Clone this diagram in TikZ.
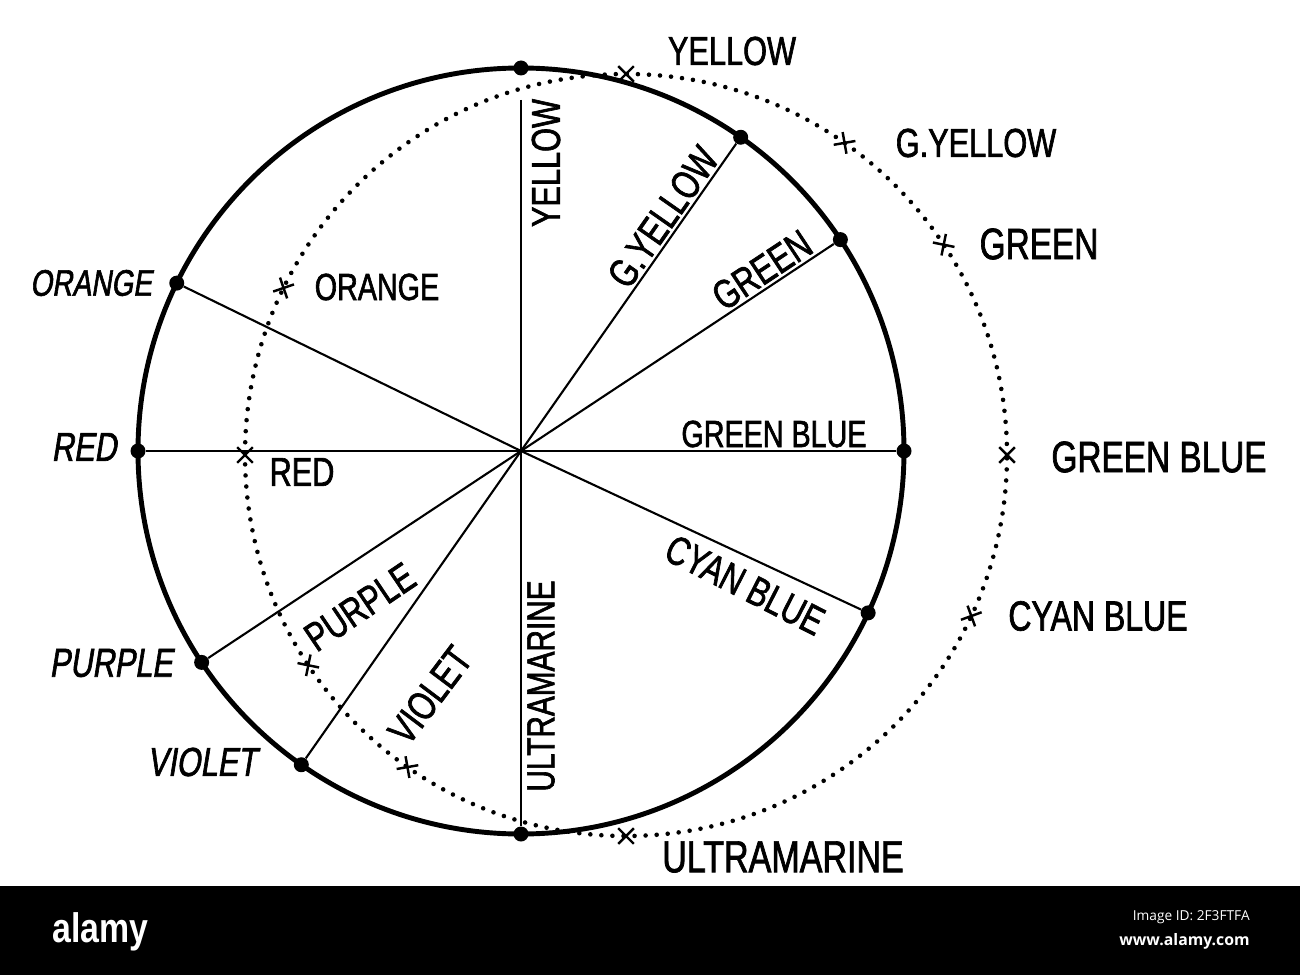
\documentclass[tikz,border=0pt]{standalone}
\usepackage{fontspec}
\usetikzlibrary{calc}
\newfontfamily\lblfont[FakeStretch=0.76,FakeBold=1.6]{Liberation Sans}
\newfontfamily\lblslfont[FakeStretch=0.76,FakeSlant=0.16,FakeBold=1.6]{Liberation Sans}
\newfontfamily\logofont[FakeStretch=0.82]{Liberation Sans}
\newfontfamily\bannerfont{Open Sans}
\begin{document}
\begin{tikzpicture}[x=0.02cm,y=0.02cm,
  lbl/.style={font=\lblfont\fontsize{23}{23}\selectfont, inner sep=0pt},
  lbls/.style={font=\lblslfont\fontsize{23}{23}\selectfont, inner sep=0pt},
  rim/.style={line width=2.8pt},
  spoke/.style={line width=1.2pt},
  dotline/.style={line width=2.6pt, line cap=round, dash pattern=on 0pt off 6.3pt},
  colordot/.style={circle, fill=black, inner sep=0pt, minimum size=0.3cm},
  crossmark/.style={line width=1.4pt},
  banner/.style={text=white, inner sep=0pt}]
\useasboundingbox (0,0) rectangle (1300,975);
\fill[white] (0,0) rectangle (1300,975);
\coordinate (C) at (521,524);
\coordinate (D) at (626,520);
% circles
\draw[rim] (C) circle[radius=383];
\draw[dotline] (D) circle[radius=381];
% dots on the main circle
\foreach \n/\a in {yel/90, gyel/55, grn/33.5, gbl/0, cyb/-25, ult/-90, vio/235, pur/213.5, red/180, ora/154}
  \node[colordot] (d-\n) at ($(C)+(\a:383)$) {};
% crosses on the dotted circle
\foreach \n/\a in {yel/90, gyel/55, grn/33.5, gbl/0, cyb/-25, ult/-90, vio/235, pur/213.5, red/180, ora/154}{
  \coordinate (m-\n) at ($(D)+(\a:381)$);
  \draw[crossmark] ($(m-\n)+({\a+45}:11)$) -- ($(m-\n)+({\a+225}:11)$);
  \draw[crossmark] ($(m-\n)+({\a-45}:11)$) -- ($(m-\n)+({\a+135}:11)$);
}
% spokes
\coordinate (ytop) at (521,875);
\draw[spoke] (ytop) -- (C);
\foreach \n in {gyel,grn,gbl,cyb,ult,vio,pur,red,ora}
  \draw[spoke] (C) -- (d-\n);
% inner labels
\node[lbl, rotate=90] (i-yel) at (546,812) {YELLOW};
\node[lbl, rotate=55] (i-gyel) at (663,758) {G.YELLOW};
\node[lbl, rotate=33.5] (i-grn) at (762,705) {GREEN};
\node[lbl, font=\lblfont\fontsize{21.5}{21.5}\selectfont] (i-gbl) at (774,541) {GREEN BLUE};
\node[lbl, rotate=-27] (i-cyb) at (745,390) {CYAN BLUE};
\node[lbl, rotate=90, font=\lblfont\fontsize{22.3}{22.3}\selectfont] (i-ult) at (541,289) {ULTRAMARINE};
\node[lbl, rotate=53] (i-vio) at (430,280) {VIOLET};
\node[lbl, rotate=34] (i-pur) at (360,368) {PURPLE};
\node[lbl] (i-red) at (302,503) {RED};
\node[lbl, font=\lblfont\fontsize{21.5}{21.5}\selectfont] (i-ora) at (377,688) {ORANGE};
% outer labels
\node[lbl] (o-yel) at (732,924) {YELLOW};
\node[lbl] (o-gyel) at (976,832) {G.YELLOW};
\node[lbl, font=\lblfont\fontsize{25}{25}\selectfont] (o-grn) at (1039,731) {GREEN};
\node[lbl, font=\lblfont\fontsize{25}{25}\selectfont] (o-gbl) at (1159,518) {GREEN BLUE};
\node[lbl, font=\lblfont\fontsize{24}{24}\selectfont] (o-cyb) at (1098,359) {CYAN BLUE};
\node[lbl, font=\lblfont\fontsize{25.5}{25.5}\selectfont] (o-ult) at (783,118) {ULTRAMARINE};
\node[lbls, font=\lblslfont\fontsize{21}{21}\selectfont] (o-ora) at (91,692) {ORANGE};
\node[lbls] (o-red) at (84,528) {RED};
\node[lbls] (o-pur) at (111,312) {PURPLE};
\node[lbls] (o-vio) at (202,213) {VIOLET};
% banner
\fill[black] (0,0) rectangle (1300,89);
\node[banner, anchor=base west, font=\logofont\bfseries\fontsize{23.5}{23.5}\selectfont] (logo) at (52,33) {alamy};
\node[banner, anchor=east, font=\bannerfont\fontsize{7.8}{8}\selectfont] (imgid) at (1250,58) {Image ID: 2F3FTFA};
\node[banner, anchor=east, font=\bannerfont\bfseries\fontsize{9}{10}\selectfont] (www) at (1250,34) {www.alamy.com};
\end{tikzpicture}
\end{document}
